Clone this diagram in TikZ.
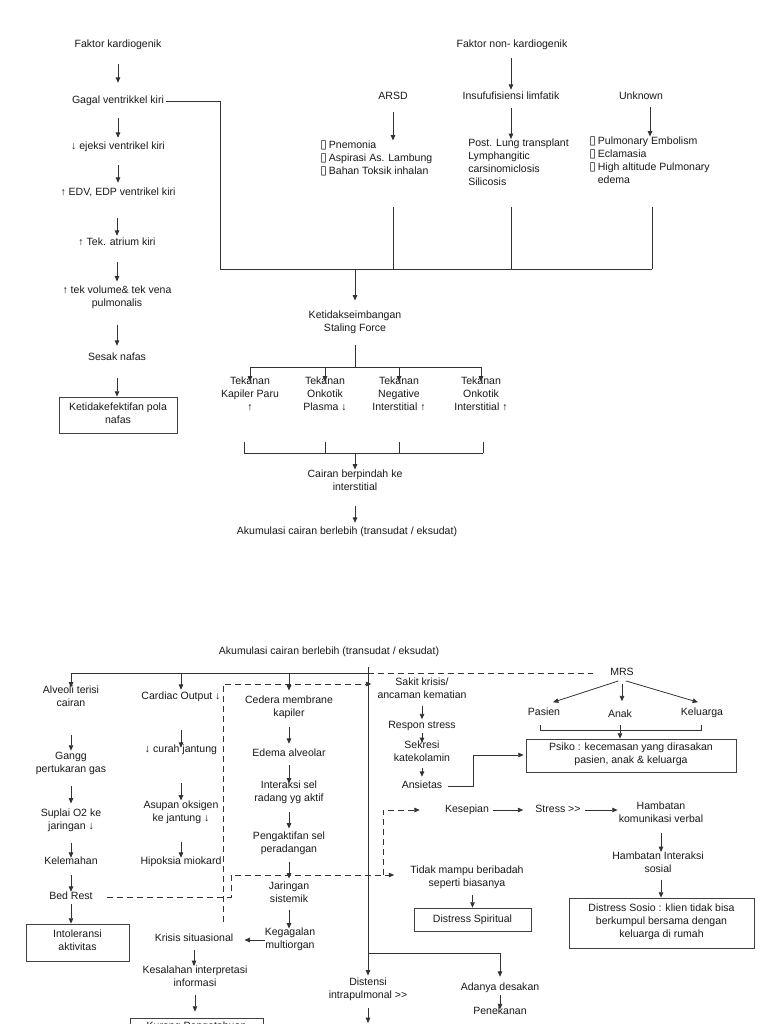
\documentclass[tikz,border=0pt]{standalone}
\usepackage{fontspec}
\setmainfont{Liberation Sans}
\newfontfamily\dv{DejaVu Sans}
\usetikzlibrary{arrows.meta}
\newlength\px \setlength\px{0.75pt}
\newcommand\bul{{\dv\fontsize{9}{9}\selectfont ▯}\hspace{2\px}}
\begin{document}
\begin{tikzpicture}[x=0.75pt,y=-0.75pt,
  t/.style={inner sep=0pt, align=center, font=\fontsize{7.9}{9.75}\selectfont, text=black!90,
    execute at begin node=\strut, execute at end node=\strut},
  tl/.style={t, align=left, anchor=west},
  bx/.style={t, draw=black!75, line width=0.6pt},
  ln/.style={draw=black!80, line width=0.6pt},
  arr/.style={ln, -{Triangle[length=4pt,width=3.4pt]}},
  dsh/.style={dash pattern=on 4.5pt off 3pt}]
\fill[white] (0,0) rectangle (768,1024);
\useasboundingbox (0,0) rectangle (768,1024);

% ---------- top half ----------
\node[t] (fk) at (118,45) {Faktor kardiogenik};
\node[t] (gv) at (118,101) {Gagal ventrikkel kiri};
\node[t] (ej) at (118,147) {↓ ejeksi ventrikel kiri};
\node[t] (edv) at (118,193) {↑ EDV, EDP ventrikel kiri};
\node[t] (ta) at (117,243) {↑ Tek. atrium kiri};
\node[t] (tv) at (117,298.5) {↑ tek volume\& tek vena\\pulmonalis};
\node[t] (sn) at (117,358) {Sesak nafas};
\node[bx, minimum width=118\px, minimum height=36\px] (kp) at (118,415) {Ketidakefektifan pola\\nafas};

\draw[arr, shorten <=12.5\px, shorten >=11.5\px] (fk.south) -- (gv.north);
\draw[arr, shorten <=10.5\px, shorten >=2.5\px] (gv.south) -- (ej.north);
\draw[arr, shorten <=11.5\px, shorten >=3.5\px] (ej.south) -- (ej.south |- edv.north);
\draw[arr, shorten <=18.5\px, shorten >=0.5\px] (edv.south -| ta) -- (ta.north);
\draw[arr, shorten <=12.5\px, shorten >=4.5\px] (ta.south) -- (tv.north);
\draw[arr, shorten <=13.5\px, shorten >=5.5\px] (tv.south) -- (sn.north);
\draw[arr, shorten <=13.5\px] (sn.south) -- (sn.south |- kp.north);

\node[t] (fnk) at (512,45) {Faktor non- kardiogenik};
\node[t] (ar) at (393,97) {ARSD};
\node[t] (il) at (511,97) {Insufufisiensi limfatik};
\node[t] (un) at (641,97) {Unknown};
\node[tl] (arl) at (320,160) {\bul Pnemonia\\\bul Aspirasi As. Lambung\\\bul Bahan Toksik inhalan};
\node[tl] (ill) at (468,164.5) {Post. Lung transplant\\Lymphangitic\\carsinomiclosis\\Silicosis};
\node[tl] (unl) at (589,162) {\bul Pulmonary Embolism\\\bul Eclamasia\\\bul High altitude Pulmonary\\\phantom{\bul}edema};

\coordinate (hL) at (220,269);
\coordinate (hR) at (652,269);
\coordinate (ua) at ([xshift=9\px]un.south);
\draw[ln, shorten <=2\px] (gv.east) -| (hL) -- (hR);
\draw[arr, shorten <=8.5\px, shorten >=0.5\px] (ar.south) -- (ar.south |- arl.north);
\draw[ln, shorten <=27.5\px] (ar |- arl.south) -- (ar |- hL);
\draw[arr, shorten <=6.5\px, shorten >=0.5\px] (fnk.south -| il) -- (il.north);
\draw[arr, shorten <=4.5\px] (il.south) -- (il.south |- ill.north);
\draw[ln, shorten <=16.5\px] (il |- ill.south) -- (il |- hL);
\draw[arr, shorten <=3.5\px] (ua) -- (ua |- unl.north);
\draw[ln, shorten <=19\px] (hR |- unl.south) -- (hR);

\node[t] (ks) at (355,323.5) {Ketidakseimbangan\\Staling Force};
\draw[arr, shorten >=10.5\px] (ks |- hL) -- (ks.north);
\coordinate (b1) at (250,367);
\coordinate (b2) at (481,367);
\draw[ln, shorten <=8.5\px] (ks.south) -- (ks |- b1);
\draw[ln] (b1) -- (b2);
\node[t] (t1) at (250,396) {Tekanan\\Kapiler Paru\\↑};
\node[t] (t2) at (325,396) {Tekanan\\Onkotik\\Plasma ↓};
\node[t] (t3) at (399,396) {Tekanan\\Negative\\Interstitial ↑};
\node[t] (t4) at (481,396) {Tekanan\\Onkotik\\Interstitial ↑};
\foreach \n in {t1,t2,t3,t4} \draw[arr, shorten >=-4.5\px] (\n |- b1) -- (\n.north);
\coordinate (c1) at (244,453);
\coordinate (c2) at (483,453);
\draw[ln, shorten <=26.5\px] (c1 |- t1.south) -- (c1);
\draw[ln, shorten <=26.5\px] (t2.south) -- (t2 |- c1);
\draw[ln, shorten <=26.5\px] (t3.south) -- (t3 |- c1);
\draw[ln, shorten <=26.5\px] (c2 |- t4.south) -- (c2);
\draw[ln] (c1) -- (c2);
\node[t] (cb) at (355,482) {Cairan berpindah ke\\interstitial};
\draw[arr] (cb |- c1) -- (cb.north);
\node[t] (ak1) at (347,532) {Akumulasi cairan berlebih (transudat / eksudat)};
\draw[arr, shorten <=11\px, shorten >=2.5\px] (cb.south) -- (cb.south |- ak1.north);

% ---------- bottom half ----------
\node[t] (ak2) at (329,652) {Akumulasi cairan berlebih (transudat / eksudat)};
\node[t] (mrs) at (622,673) {MRS};
\coordinate (tL) at (71,673);
\coordinate (tM) at (368,673);
\coordinate (vTop) at (368,667);
\draw[ln] (tL) -- (tM);
\draw[ln, dsh, shorten >=17\px] (tM) -- (mrs.west);

\node[t] (al) at (71,698.5) {Alveoli terisi\\cairan};
\node[t] (co) at (181,697) {Cardiac Output ↓};
\node[t] (cm) at (289,708.5) {Cedera membrane\\kapiler};
\draw[arr, shorten >=-1.5\px] (tL) -- (al.north);
\draw[arr, shorten >=0.5\px] (co |- tL) -- (co.north);
\draw[arr, shorten >=5.5\px] (cm |- tL) -- (cm.north);

\node[t] (gg) at (71,764.5) {Gangg\\pertukaran gas};
\node[t] (su) at (71,821.5) {Suplai O2 ke\\jaringan ↓};
\node[t] (ke) at (71,862) {Kelemahan};
\node[t] (br) at (71,897) {Bed Rest};
\node[bx, minimum width=103\px, minimum height=37\px] (it) at (77.5,942.5) {Intoleransi\\aktivitas};
\draw[arr, shorten <=23.5\px, shorten >=1.5\px] (al.south) -- (gg.north);
\draw[arr, shorten <=9.5\px, shorten >=5.5\px] (gg.south) -- (su.north);
\draw[arr, shorten <=8.5\px, shorten >=-2.5\px] (su.south) -- (ke.north);
\draw[arr, shorten <=6.5\px, shorten >=-1.5\px] (ke.south) -- (br.north);
\draw[arr] (br.south) -- (br.south |- it.north);

\node[t] (cj) at (181,750) {↓ curah jantung};
\node[t] (ao) at (181,813.5) {Asupan oksigen\\ke jantung ↓};
\node[t] (hm) at (181,862) {Hipoksia miokard};
\draw[arr, shorten <=26.5\px, shorten >=-4.5\px] (co.south) -- (cj.north);
\draw[arr, shorten <=26.5\px, shorten >=0.5\px] (cj.south) -- (ao.north);
\draw[arr, shorten <=15.5\px, shorten >=-2.5\px] (ao.south) -- (hm.north);

\node[t] (ea) at (289,754) {Edema alveolar};
\node[t] (is) at (289,793.5) {Interaksi sel\\radang yg aktif};
\node[t] (ps) at (289,844.5) {Pengaktifan sel\\peradangan};
\node[t] (js) at (289,894.5) {Jaringan\\sistemik};
\node[t] (kg) at (290,940) {Kegagalan\\multiorgan};
\draw[arr, shorten <=5.5\px, shorten >=3.5\px] (cm.south) -- (ea.north);
\draw[arr, shorten <=4.5\px, shorten >=-2.5\px] (ea.south) -- (is.north);
\draw[arr, shorten <=5.5\px, shorten >=3.5\px] (is.south) -- (ps.north);
\draw[arr, shorten <=4.5\px, shorten >=3.5\px] (ps.south) -- (js.north);
\draw[arr, shorten <=2.5\px, shorten >=-1\px] (js.south) -- (js.south |- kg.north);

\node[t] (kr) at (194,939) {Krisis situasional};
\draw[arr, shorten >=11\px] (kg.west) -- (kg.west -| kr.east);
\node[t] (kes) at (195,978.5) {Kesalahan interpretasi\\informasi};
\node[bx, minimum width=133\px, minimum height=18\px] (kur) at (196.5,1027) {Kurang Pengetahuan};
\draw[arr, shorten <=4.5\px] (kr.south) -- (kr.south |- kes.north);
\draw[arr, shorten <=3.5\px, shorten >=6\px] (kes.south) -- (kes.south |- kur.north);

\node[t] (sk) at (422,690) {Sakit krisis/\\ancaman kematian};
\node[t] (rs) at (422,726) {Respon stress};
\node[t] (sek) at (422,753.5) {Sekresi\\katekolamin};
\node[t] (an) at (422,786) {Ansietas};
\draw[arr, shorten <=3\px] (sk.south) -- (rs.north);
\draw[arr, shorten <=0.5\px, shorten >=-2\px] (rs.south) -- (sek.north);
\draw[arr, shorten <=1.5\px, shorten >=2.5\px] (sek.south) -- (an.north);

\node[bx, minimum width=210\px, minimum height=33\px] (psi) at (631,755.5) {Psiko : kecemasan yang dirasakan\\pasien, anak \& keluarga};
\coordinate (aC) at (473,755);
\draw[arr, shorten <=5.5\px, shorten >=2\px] (an.east) -| (aC) -- (aC -| psi.west);

\node[t] (pa) at (544,713) {Pasien};
\node[t] (ana) at (620,715) {Anak};
\node[t] (kel) at (702,713) {Keluarga};
\coordinate (m1) at ([xshift=9\px,yshift=4\px]pa.north);
\coordinate (m3) at ([xshift=-4\px,yshift=4\px]kel.north);
\draw[arr, shorten <=4\px] (mrs.south) -- (m1);
\draw[arr, shorten <=4\px, shorten >=7\px] (mrs.south) -- (mrs.south |- ana.north);
\draw[arr, shorten <=4\px] (mrs.south) -- (m3);
\coordinate (k1) at (540,730);
\coordinate (k2) at (701,730);
\draw[ln, shorten <=5.5\px, shorten >=5.5\px] (k1 |- pa.south) -- (k1) -- (k2) -- (k2 |- kel.south);
\draw[arr, shorten <=3.5\px] (ana.south) -- (ana.south |- psi.north);

\node[t] (kse) at (467,810) {Kesepian};
\node[t] (st) at (558,810) {Stress >\kern0pt>};
\node[t] (hk) at (661,814.5) {Hambatan\\komunikasi verbal};
\draw[arr, shorten <=4\px, shorten >=12\px] (kse.east) -- (st.west);
\draw[arr, shorten <=4\px, shorten >=1\px] (st.east) -- (st.east -| hk.west);
\node[t] (hi) at (658,864.5) {Hambatan Interaksi\\sosial};
\draw[arr, shorten <=5.5\px] (hk.south) -- (hk.south |- hi.north);
\node[bx, minimum width=185\px, minimum height=50\px] (ds) at (661.5,923) {Distress Sosio : klien tidak bisa\\berkumpul bersama dengan\\keluarga di rumah};
\draw[arr, shorten <=2.5\px] (hk |- hi.south) -- (hk |- ds.north);

\node[t] (tm) at (467,878.5) {Tidak mampu beribadah\\seperti biasanya};
\node[bx, minimum width=117\px, minimum height=23\px] (dsp) at (472.5,919.5) {Distress Spiritual};
\draw[arr, shorten <=3.5\px] (dsp |- tm.south) -- (dsp.north);

\node[t] (dis) at (368,990.5) {Distensi\\intrapulmonal >\kern0pt>};
\node[t] (ad) at (500,988) {Adanya desakan};
\node[t] (pen) at (500,1012) {Penekanan};
\draw[arr, shorten >=2.5\px] (vTop) -- (dis.north);
\coordinate (jD) at (368,953);
\draw[arr, shorten >=4.5\px] (jD) -| (ad.north);
\draw[arr, shorten <=0.5\px, shorten >=-4\px] (ad.south) -- (pen.north);
\coordinate (dEnd) at (368,1024);
\draw[arr, shorten <=4.5\px, shorten >=1\px] (dis.south) -- (dEnd);

% dashed connectors
\coordinate (d1b) at (223,922);
\coordinate (d1t) at (223,684);
\draw[arr, dsh, shorten >=6\px] (d1b) -- (d1t) -- (d1t -| sk.west);
\coordinate (d2c) at (231,875);
\coordinate (d2j) at (383,875);
\draw[arr, dsh, shorten <=14\px, shorten >=16\px] (br.east) -| (d2c) -- (d2c -| tm.west);
\draw[arr, dsh, shorten >=25\px] (d2j) |- (kse.west);
\end{tikzpicture}
\end{document}
